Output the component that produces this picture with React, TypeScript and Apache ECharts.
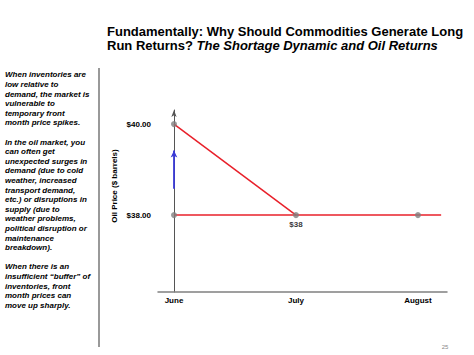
import React, { useEffect, useRef } from "react";
import * as echarts from "echarts";

const months = ["June", "July", "August"];
const monthPos = [0, 1, 2];
const spikePath = [
  [0, 40],
  [1, 38],
];
const flatPath = [
  [0, 38],
  [2.19, 38],
];
const points = [
  [0, 40],
  [0, 38],
  [1, 38],
  [2, 38],
];
const yTicks = [38, 40];
const arrowFrom = [0, 38.58];
const arrowTo = [0, 39.42];

const titleLine1 = "Fundamentally: Why Should Commodities Generate Long";
const titleLine2a = "Run Returns? ";
const titleLine2b = "The Shortage Dynamic and Oil Returns";

const sideText = [
  "When inventories are",
  "low relative to",
  "demand, the market is",
  "vulnerable to",
  "temporary front",
  "month price spikes.",
  "",
  "In the oil market, you",
  "can often get",
  "unexpected surges in",
  "demand (due to cold",
  "weather, increased",
  "transport demand,",
  "etc.) or disruptions in",
  "supply (due to",
  "weather problems,",
  "political disruption or",
  "maintenance",
  "breakdown).",
  "",
  "When there is an",
  "insufficient \u201cbuffer\u201d of",
  "inventories, front",
  "month prices can",
  "move up sharply.",
];

const FONT = "'Liberation Sans', Arial, sans-serif";

export default function App() {
  const ref = useRef<HTMLDivElement>(null);
  useEffect(() => {
    const chart = echarts.init(ref.current!, null, { renderer: "svg" });
    chart.setOption({
      animation: false,
      backgroundColor: "#ffffff",
      grid: { left: 158, right: 27, top: 110, bottom: 63, containLabel: false },
      xAxis: {
        type: "value",
        min: -0.131,
        max: 2.238,
        splitLine: { show: false },
        axisLine: { lineStyle: { color: "#808080", width: 1.5 } },
        axisTick: { show: false },
        axisLabel: {
          customValues: monthPos,
          formatter: (v: number) => months[Math.round(v)] ?? "",
          color: "#000",
          fontSize: 8,
          fontWeight: "bold",
          fontFamily: FONT,
          margin: 4,
        },
      },
      yAxis: {
        type: "value",
        min: 36.31,
        max: 40.31,
        splitLine: { show: false },
        axisLine: {
          show: true,
          symbol: ["none", "arrow"],
          symbolSize: [4, 7],
          symbolOffset: [0, 0],
          lineStyle: { color: "#555", width: 1 },
        },
        axisTick: { show: false },
        axisLabel: {
          customValues: yTicks,
          formatter: (v: number) => "$" + v.toFixed(2),
          color: "#000",
          fontSize: 8,
          fontWeight: "bold",
          fontFamily: FONT,
          margin: 7,
        },
      },
      series: [
        {
          type: "line",
          data: flatPath,
          showSymbol: false,
          symbol: "none",
          lineStyle: { color: "#e8202a", width: 1.5 },
          z: 2,
        },
        {
          type: "line",
          data: spikePath,
          showSymbol: false,
          symbol: "none",
          lineStyle: { color: "#e8202a", width: 1.5 },
          z: 2,
          markLine: {
            silent: true,
            symbol: ["none", "arrow"],
            symbolSize: [5, 7],
            label: { show: false },
            lineStyle: { color: "#3a3ad6", width: 1.8, type: "solid" },
            data: [[{ coord: arrowFrom }, { coord: arrowTo }]],
          },
        },
        {
          type: "scatter",
          data: points,
          symbol: "circle",
          symbolSize: 6,
          itemStyle: { color: "#808080" },
          z: 3,
          label: {
            show: true,
            position: "bottom",
            distance: 2,
            color: "#000",
            fontSize: 8,
            fontWeight: "bold",
            fontFamily: FONT,
            formatter: (p: any) =>
              p.value[0] === 1 ? "$" + Math.round(p.value[1]) : "",
          },
        },
      ],
      graphic: [
        {
          type: "text",
          left: 107,
          top: 24,
          style: {
            text: titleLine1 + "\n" + titleLine2a + "{i|" + titleLine2b + "}",
            fontSize: 13,
            fontWeight: "bold",
            fontFamily: FONT,
            lineHeight: 14,
            fill: "#000",
            rich: {
              i: {
                fontStyle: "italic",
                fontWeight: "bold",
                fontSize: 13,
                fontFamily: FONT,
                lineHeight: 14,
              },
            },
          },
        },
        {
          type: "text",
          left: 5,
          top: 70,
          style: {
            text: sideText.join("\n"),
            fontSize: 8,
            fontWeight: "bold",
            fontStyle: "italic",
            fontFamily: FONT,
            lineHeight: 9.6,
            fill: "#000",
          },
        },
        {
          type: "line",
          shape: { x1: 99, y1: 68, x2: 99, y2: 347 },
          style: { stroke: "#777", lineWidth: 1.5 },
        },
        {
          type: "text",
          x: 114,
          y: 186,
          rotation: Math.PI / 2,
          style: {
            text: "Oil Price ($ barrels)",
            fontSize: 8,
            fontWeight: "bold",
            fontFamily: FONT,
            fill: "#000",
            align: "center",
            verticalAlign: "middle",
          },
        },
        {
          type: "text",
          x: 445,
          y: 347,
          style: {
            text: "25",
            fontSize: 6,
            fontFamily: FONT,
            fill: "#888",
            align: "center",
            verticalAlign: "middle",
          },
        },
      ],
    });
    return () => chart.dispose();
  }, []);
  return <div ref={ref} style={{ width: 474, height: 355, position: "absolute", left: 0, top: 0 }} />;
}
